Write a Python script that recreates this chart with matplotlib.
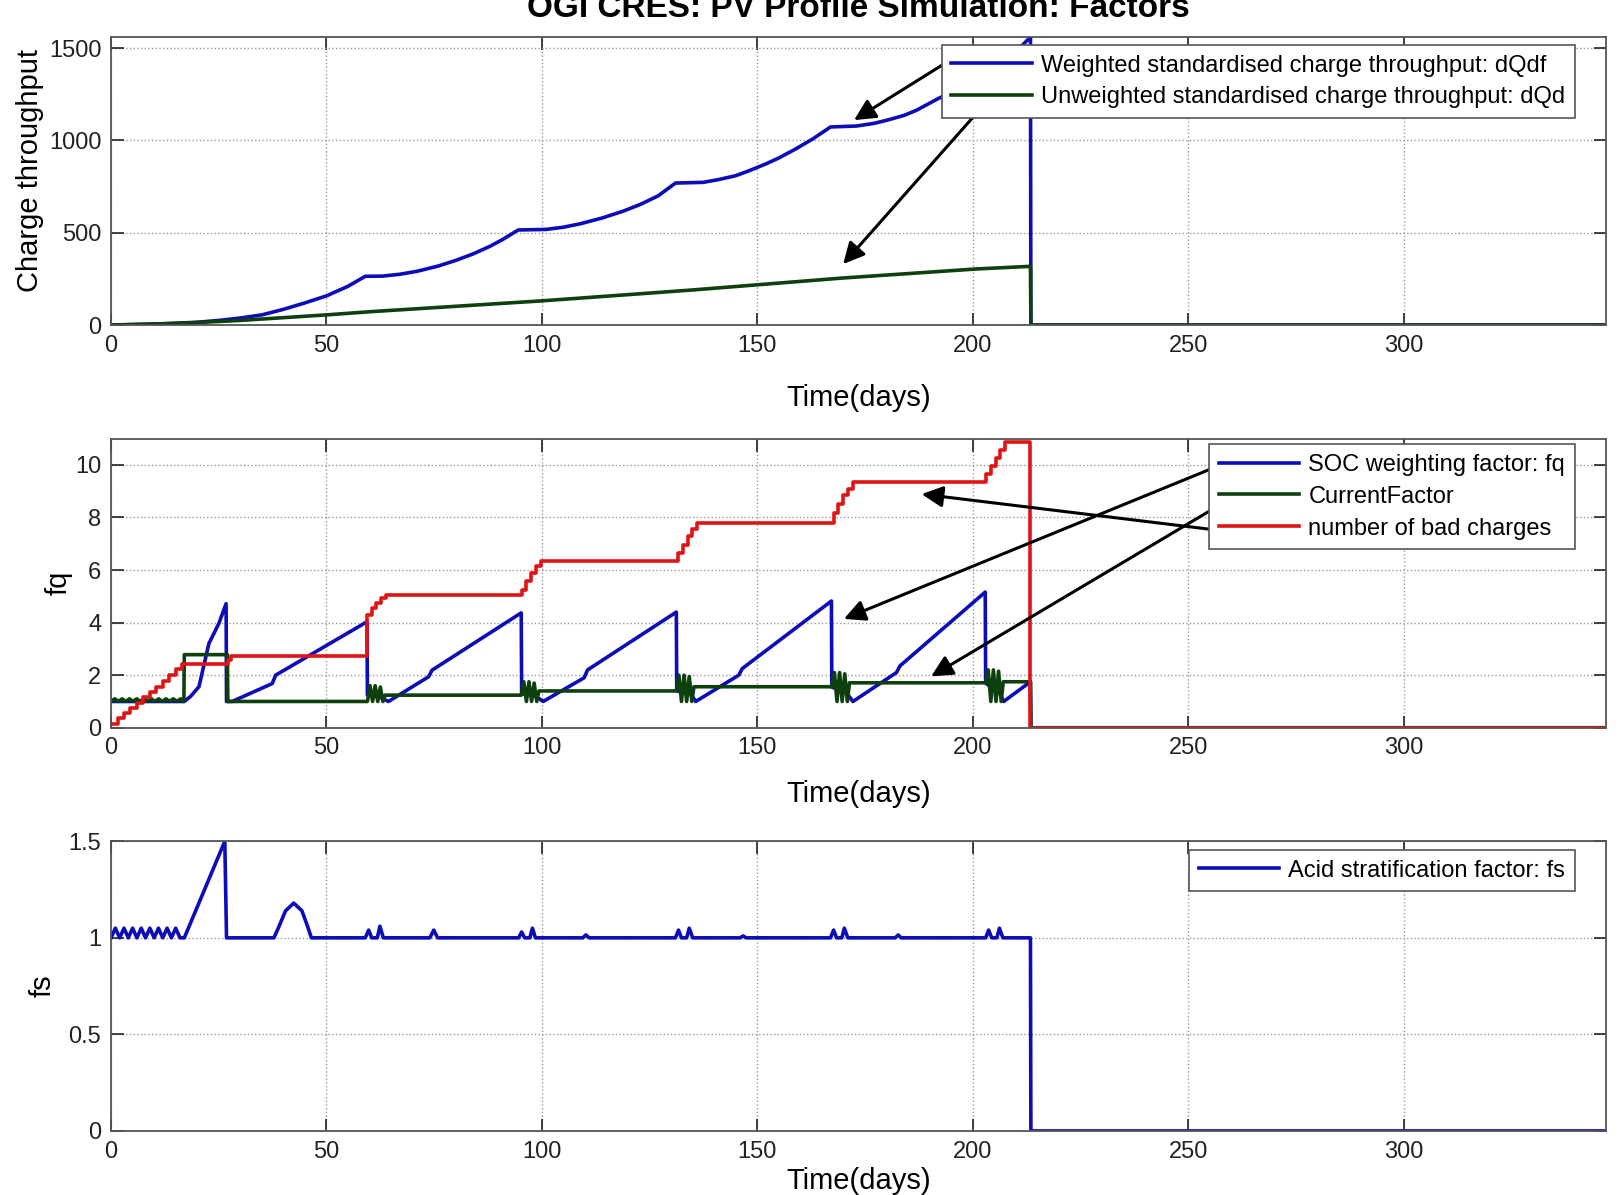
# Import Libs
import matplotlib
matplotlib.use('Agg')
import matplotlib.pyplot as plt

plt.rcParams['font.family'] = ['Liberation Sans', 'DejaVu Sans']

# Data (time in days)
# top panel: charge throughput
dqdf_t = [0, 10, 20, 25, 30, 35, 40, 45, 50, 55, 59, 63, 67, 71, 76, 80, 84, 88, 91, 94.5, 101,
          105, 109, 114, 119, 123, 127, 131, 137.5, 141, 145, 148, 152, 155, 159, 163, 167,
          173, 177, 180, 184, 187, 192, 196, 199, 203, 207, 210, 213.4, 213.5, 347]
dqdf_v = [0, 5, 15, 25, 38, 55, 85, 120, 158, 210, 264, 265, 275, 291, 320, 350, 385, 427, 465,
          515, 518, 530, 549, 580, 618, 655, 700, 769, 773, 788, 809, 835, 873, 905, 955, 1010,
          1073, 1078, 1092, 1109, 1135, 1164, 1227, 1270, 1315, 1370, 1427, 1480, 1560, 0, 0]
dqd_t = [0, 16, 30, 50, 60, 100, 135, 150, 170, 201, 213.4, 213.5, 347]
dqd_v = [0, 9, 25, 55, 72, 131, 190, 218, 255, 304, 318, 0, 0]

# middle panel: SOC weighting factor fq
fq_t = [0, 17, 18.5, 20.4, 22.7, 25, 26.7, 26.8, 28.1, 37.4, 38.2, 59.4, 59.5, 62.5, 64.4,
        73.7, 74.5, 95.2, 95.3, 98.5, 100.3, 109.8, 110.6, 131.2, 131.3, 134.5, 135.7,
        145.7, 146.5, 167.2, 167.3, 170.8, 172.2, 182.3, 183.1, 202.9, 203.0, 206.3, 207.2,
        213.4, 213.5, 347]
fq_v = [1.0, 1.0, 1.2, 1.56, 3.2, 3.96, 4.72, 1.0, 1.0, 1.68, 2.0, 4.03, 1.25, 1.15, 1.0,
        1.94, 2.19, 4.37, 1.3, 1.2, 1.0, 1.9, 2.2, 4.4, 1.4, 1.3, 1.0,
        2.0, 2.25, 4.82, 1.55, 1.3, 1.0, 2.1, 2.35, 5.16, 1.7, 1.3, 1.0,
        1.75, 0, 0]

# middle panel: CurrentFactor
cf_t = [0, 0.85, 1.7, 2.55, 3.4, 4.25, 5.1, 5.95, 6.8, 7.65, 8.5, 9.35, 10.2, 11.05, 11.9,
        12.75, 13.6, 14.45, 15.3, 16.15, 16.9, 17.0, 27.0, 27.1, 59.5,
        60.1, 60.7, 61.3, 61.9, 62.5, 63.1, 63.6, 95.2,
        95.8, 96.4, 97.0, 97.6, 98.2, 98.8, 99.3, 131.2,
        131.8, 132.4, 133.0, 133.6, 134.2, 134.8, 135.3, 167.3,
        167.9, 168.5, 169.1, 169.7, 170.3, 170.9, 171.4, 203.0,
        203.6, 204.2, 204.8, 205.4, 206.0, 206.6, 207.1, 213.4, 213.5, 347]
cf_v = [1.0, 1.1, 1.0, 1.1, 1.0, 1.1, 1.0, 1.1, 1.0, 1.1, 1.0, 1.1, 1.0, 1.1, 1.0,
        1.1, 1.0, 1.1, 1.0, 1.1, 1.0, 2.78, 2.78, 1.0, 1.0,
        1.6, 1.0, 1.6, 1.0, 1.55, 1.0, 1.24, 1.24,
        1.75, 1.0, 1.75, 1.0, 1.7, 1.0, 1.40, 1.40,
        2.0, 1.0, 2.0, 1.0, 1.95, 1.0, 1.56, 1.56,
        2.1, 1.0, 2.1, 1.0, 2.05, 1.0, 1.71, 1.71,
        2.2, 1.0, 2.2, 1.0, 2.15, 1.0, 1.75, 1.75, 0, 0]

# middle panel: number of bad charges (staircase)
nbc_t = [0, 1.5, 3, 4.5, 6, 7.5, 9, 10.5, 12, 13.5, 15, 16.5, 27.2, 27.8,
         59.4, 60.5, 61.5, 62.6, 63.7, 95.3, 96.4, 97.5, 98.6, 99.8,
         131.6, 132.7, 133.8, 134.9, 136, 167.7, 168.8, 169.9, 171, 172.1,
         203.1, 204.2, 205.3, 206.4, 207.6, 213.4, 347]
nbc_v = [0.16, 0.36, 0.56, 0.76, 0.96, 1.16, 1.36, 1.56, 1.78, 2.0, 2.22, 2.44, 2.58, 2.72,
         4.28, 4.55, 4.75, 4.95, 5.05, 5.25, 5.6, 5.9, 6.15, 6.35,
         6.65, 6.95, 7.3, 7.55, 7.8, 8.15, 8.5, 8.85, 9.1, 9.33,
         9.65, 9.95, 10.25, 10.55, 10.88, 0, 0]

# bottom panel: acid stratification factor fs
fs_t = [0, 1, 2, 3, 4, 5, 6, 7, 8, 9, 10, 11, 12, 13, 14, 15, 16, 17, 26.4, 26.8,
        37.8, 39, 40.5, 42.4, 44.3, 45.6, 46.5,
        59, 59.8, 60.5, 61.8, 62.4, 63.2, 74, 74.9, 75.8,
        94.6, 95.3, 96, 97.2, 97.8, 98.5, 109.5, 110.2, 111,
        131, 131.7, 132.4, 133.6, 134.2, 135, 146, 146.7, 147.4,
        167, 167.7, 168.4, 169.6, 170.2, 171, 182, 182.7, 183.4,
        203, 203.7, 204.4, 205.6, 206.2, 207, 213.4, 213.5, 347]
fs_v = [1.0, 1.05, 1.0, 1.05, 1.0, 1.05, 1.0, 1.05, 1.0, 1.05, 1.0, 1.05, 1.0, 1.05, 1.0,
        1.05, 1.0, 1.0, 1.5, 1.0,
        1.0, 1.06, 1.14, 1.18, 1.14, 1.06, 1.0,
        1.0, 1.04, 1.0, 1.0, 1.06, 1.0, 1.0, 1.04, 1.0,
        1.0, 1.03, 1.0, 1.0, 1.05, 1.0, 1.0, 1.015, 1.0,
        1.0, 1.04, 1.0, 1.0, 1.05, 1.0, 1.0, 1.01, 1.0,
        1.0, 1.04, 1.0, 1.0, 1.05, 1.0, 1.0, 1.015, 1.0,
        1.0, 1.04, 1.0, 1.0, 1.05, 1.0, 1.0, 0, 0]

x_ticks = [0, 50, 100, 150, 200, 250, 300]

blue = '#0c0cb8'
green = '#0d400d'
red = '#e01414'
lw = 2.6

fig = plt.figure(figsize=(16.19, 11.95), dpi=100)
ax1 = fig.add_axes([0.0686, 0.728, 0.9234, 0.241])
ax2 = fig.add_axes([0.0686, 0.391, 0.9234, 0.242])
ax3 = fig.add_axes([0.0686, 0.0536, 0.9234, 0.2424])

fig.text(0.53, 0.986, 'OGI CRES: PV Profile Simulation: Factors', ha='center', va='baseline',
         fontsize=24, fontweight='bold')

# Top: charge throughput
ax1.plot(dqdf_t, dqdf_v, color=blue, lw=lw, label='Weighted standardised charge throughput: dQdf')
ax1.plot(dqd_t, dqd_v, color=green, lw=lw, label='Unweighted standardised charge throughput: dQd')
ax1.set_ylim(0, 1560)
ax1.set_yticks([0, 500, 1000, 1500])
ax1.set_ylabel('Charge throughput', fontsize=21)
ax1.yaxis.set_label_coords(-0.045, 0.535)

# Middle: factors
ax2.plot(fq_t, fq_v, color=blue, lw=lw, label='SOC weighting factor: fq')
ax2.plot(cf_t, cf_v, color=green, lw=lw, label='CurrentFactor')
ax2.plot(nbc_t, nbc_v, color=red, lw=lw, drawstyle='steps-post', label='number of bad charges')
ax2.set_ylim(0, 11)
ax2.set_yticks([0, 2, 4, 6, 8, 10])
ax2.set_ylabel('fq', fontsize=21)
ax2.yaxis.set_label_coords(-0.0256, 0.5)

# Bottom: acid stratification
ax3.plot(fs_t, fs_v, color=blue, lw=lw, label='Acid stratification factor: fs')
ax3.set_ylim(0, 1.5)
ax3.set_yticks([0, 0.5, 1, 1.5])
ax3.set_yticklabels(['0', '0.5', '1', '1.5'])
ax3.set_ylabel('fs', fontsize=21)
ax3.yaxis.set_label_coords(-0.0366, 0.5)

# MATLAB-like axes styling
for ax, ylab in [(ax1, -0.205), (ax2, -0.18), (ax3, -0.125)]:
    ax.set_xlim(0, 347)
    ax.set_xticks(x_ticks)
    ax.grid(True, linestyle=':', color='#9a9a9a', lw=1.0)
    ax.tick_params(direction='in', length=9, width=1.2, top=True, right=True,
                   labelsize=17, pad=7, colors='#222222')
    for s in ax.spines.values():
        s.set_color('#555555')
        s.set_linewidth(1.3)
    ax.set_xlabel('Time(days)', fontsize=21)
    ax.xaxis.set_label_coords(0.5, ylab)

leg_kw = dict(fontsize=17, handlelength=3.4, handletextpad=0.4, labelspacing=0.42,
              borderpad=0.4, fancybox=False, framealpha=1, edgecolor='#555555',
              borderaxespad=0)
l1 = ax1.legend(loc='upper right', bbox_to_anchor=(0.979, 0.972), **leg_kw)
l2 = ax2.legend(loc='upper right', bbox_to_anchor=(0.979, 0.98), **leg_kw)
l3 = ax3.legend(loc='upper right', bbox_to_anchor=(0.979, 0.969), **leg_kw)
for l in (l1, l2, l3):
    l.get_frame().set_linewidth(1.2)

# Arrows from legend entries to curves
arr = dict(arrowstyle='-|>', color='k', lw=2.2, mutation_scale=32)
ax1.annotate('', xy=(171.9, 1102), xytext=(194.2, 1427), arrowprops=arr)
ax1.annotate('', xy=(169.5, 319), xytext=(203.0, 1203), arrowprops=arr)
ax2.annotate('', xy=(169.5, 4.1), xytext=(257.6, 10.0), arrowprops=arr)
ax2.annotate('', xy=(189.8, 1.9), xytext=(257.6, 8.5), arrowprops=arr)
ax2.annotate('', xy=(187.5, 8.9), xytext=(257.6, 7.5), arrowprops=arr)

plt.savefig('out.png', dpi=100)
